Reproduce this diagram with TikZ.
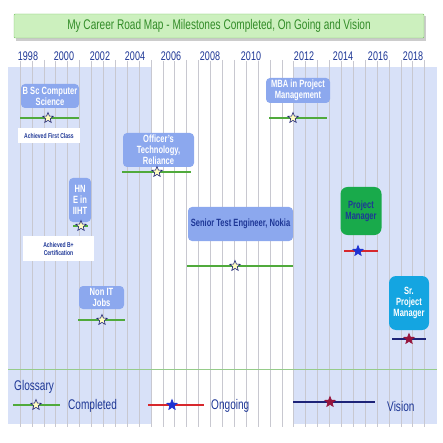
\documentclass[tikz,border=0pt]{standalone}
\usepackage{fontspec}
\setmainfont{Liberation Sans}[FakeStretch=0.72]
\usetikzlibrary{shapes.geometric}

\definecolor{bandblue}{RGB}{216,225,248}
\definecolor{gridgray}{RGB}{200,200,208}
\definecolor{boxblue}{RGB}{140,168,238}
\definecolor{textblue}{RGB}{30,55,150}
\definecolor{titlefill}{RGB}{204,240,190}
\definecolor{titledraw}{RGB}{120,195,100}
\definecolor{titletext}{RGB}{50,140,40}
\definecolor{donegreen}{RGB}{80,170,60}
\definecolor{goingred}{RGB}{215,40,45}
\definecolor{visionblue}{RGB}{30,35,120}
\definecolor{pmgreen}{RGB}{25,170,75}
\definecolor{srcyan}{RGB}{20,165,225}
\definecolor{starblue}{RGB}{30,50,210}
\definecolor{starred}{RGB}{150,20,60}

\tikzset{
  milestone/.style={rounded corners=4pt, fill=boxblue, text=white, inner sep=1pt,
    font=\bfseries\fontsize{10.5}{11}\selectfont, align=center},
  notebox/.style={fill=white, text=textblue, inner sep=1pt,
    font=\bfseries\fontsize{7}{8}\selectfont, align=center},
  yearlabel/.style={fill=white, text=textblue, inner sep=1pt, font=\fontsize{12.5}{13}\selectfont},
  legendtext/.style={text=textblue, inner sep=0pt, font=\fontsize{14}{15}\selectfont},
  starbase/.style={star, star points=5, star point ratio=2.3, minimum size=11pt, inner sep=0pt, line width=0.6pt},
  donestar/.style={starbase, draw=visionblue, fill=yellow!25},
  goingstar/.style={starbase, draw=starblue, fill=starblue},
  visionstar/.style={starbase, draw=starred, fill=starred},
  doneline/.style={donegreen, line width=2pt},
  goingline/.style={goingred, line width=2pt},
  visionline/.style={visionblue, line width=2pt}
}

\begin{document}
\begin{tikzpicture}[x=1pt, y=-1pt]
			\useasboundingbox (0,0) rectangle (443,443);
			
			% Shaded bands
			\fill[bandblue] (8,67) rectangle (151,424);
			\fill[bandblue] (294,67) rectangle (437,424);
			
			% Grid lines
			\foreach \k in {0,...,34}
				\draw[gridgray, line width=0.5pt] (20+11.9*\k,60) -- (20+11.9*\k,427);
			\draw[donegreen!60, line width=0.8pt] (8,369) -- (437,369);
			
			% Title
			\fill[black!20] (16,16) rectangle (426,41);
			\node[draw=titledraw, fill=titlefill, rounded corners=1pt, minimum width=410pt, minimum height=24pt,
				text=titletext, font=\fontsize{14}{15}\selectfont] (title) at (219,26)
				{My Career Road Map - Milestones Completed, On Going and Vision};
			
			% Years
			\node[yearlabel] (y1998) at (28,56) {1998};
			\node[yearlabel] (y2000) at (64,56) {2000};
			\node[yearlabel] (y2002) at (100,56) {2002};
			\node[yearlabel] (y2004) at (135,56) {2004};
			\node[yearlabel] (y2006) at (171,56) {2006};
			\node[yearlabel] (y2008) at (210,56) {2008};
			\node[yearlabel] (y2010) at (251,56) {2010};
			\node[yearlabel] (y2012) at (304,56) {2012};
			\node[yearlabel] (y2014) at (343,56) {2014};
			\node[yearlabel] (y2016) at (378,56) {2016};
			\node[yearlabel] (y2018) at (413,56) {2018};
			
			% B Sc
			\node[milestone, minimum width=58pt, minimum height=24pt] (bsc) at (50,96) {B Sc Computer\\Science};
			\coordinate (bscL) at (20,118);
			\coordinate (bscR) at (79,118);
			\draw[doneline] (bscL) -- (bscR);
			\node[donestar] (bscS) at (48,118) {};
			\node[notebox, minimum width=62pt, minimum height=15pt] (bscN) at (49,135.5) {Achieved First Class};
			
			% HNE
			\node[milestone, minimum width=22pt, minimum height=44pt] (hne) at (80,200) {HN\\E in\\IIHT};
			\coordinate (hneL) at (73,226);
			\coordinate (hneR) at (88,226);
			\draw[doneline] (hneL) -- (hneR);
			\node[donestar] (hneS) at (81,226) {};
			\node[notebox, minimum width=71pt, minimum height=25pt] (hneN) at (58.5,248.5) {Achieved B+\\Certification};
			
			% Non IT
			\node[milestone, minimum width=45pt, minimum height=23pt] (nonit) at (101.5,297.5) {Non IT\\Jobs};
			\coordinate (nonitL) at (78,320);
			\coordinate (nonitR) at (125,320);
			\draw[doneline] (nonitL) -- (nonitR);
			\node[donestar] (nonitS) at (102,320) {};
			
			% Reliance
			\node[milestone, minimum width=71pt, minimum height=34pt] (reliance) at (158.5,150) {Officer's\\Technology,\\Reliance};
			\coordinate (relianceL) at (122,172);
			\coordinate (relianceR) at (191,172);
			\draw[doneline] (relianceL) -- (relianceR);
			\node[donestar] (relianceS) at (157,172) {};
			
			% Nokia
			\node[milestone, text=textblue, minimum width=105pt, minimum height=34pt] (nokia) at (240.5,224) {Senior Test Engineer, Nokia};
			\coordinate (nokiaL) at (187,266);
			\coordinate (nokiaR) at (293,266);
			\draw[doneline] (nokiaL) -- (nokiaR);
			\node[donestar] (nokiaS) at (235,266) {};
			
			% MBA
			\node[milestone, minimum width=64pt, minimum height=25pt] (mba) at (298,90.5) {MBA in Project\\Management};
			\coordinate (mbaL) at (269,118);
			\coordinate (mbaR) at (327,118);
			\draw[doneline] (mbaL) -- (mbaR);
			\node[donestar] (mbaS) at (293,118) {};
			
			% Project Manager
			\node[milestone, fill=pmgreen, text=textblue, rounded corners=7pt, minimum width=41pt, minimum height=48pt] (pm) at (361,211) {Project\\Manager};
			\coordinate (pmL) at (344,251);
			\coordinate (pmR) at (378,251);
			\draw[goingline] (pmL) -- (pmR);
			\node[goingstar] (pmS) at (358,251) {};
			
			% Sr. Project Manager
			\node[milestone, fill=srcyan, rounded corners=7pt, minimum width=40pt, minimum height=54pt] (srpm) at (409,303) {Sr.\\Project\\Manager};
			\coordinate (srpmL) at (392,339);
			\coordinate (srpmR) at (426,339);
			\draw[visionline] (srpmL) -- (srpmR);
			\node[visionstar] (srpmS) at (409,339) {};
			
			% Glossary
			\node[legendtext, anchor=west] (glossary) at (14,387) {Glossary};
			\coordinate (doneL) at (13,405);
			\coordinate (doneR) at (60,405);
			\draw[doneline] (doneL) -- (doneR);
			\node[donestar] (doneS) at (36,405) {};
			\node[legendtext, anchor=west] (doneT) at (68,406) {Completed};
			
			\coordinate (goingL) at (148,405);
			\coordinate (goingR) at (204,405);
			\draw[goingline] (goingL) -- (goingR);
			\node[goingstar] (goingS) at (172,405) {};
			\node[legendtext, anchor=west] (goingT) at (211,406) {Ongoing};
			
			\coordinate (visionL) at (293,402);
			\coordinate (visionR) at (375,402);
			\draw[visionline] (visionL) -- (visionR);
			\node[visionstar] (visionS) at (330,402) {};
			\node[legendtext, anchor=west] (visionT) at (387,406) {Vision};
		\end{tikzpicture}
\end{document}
